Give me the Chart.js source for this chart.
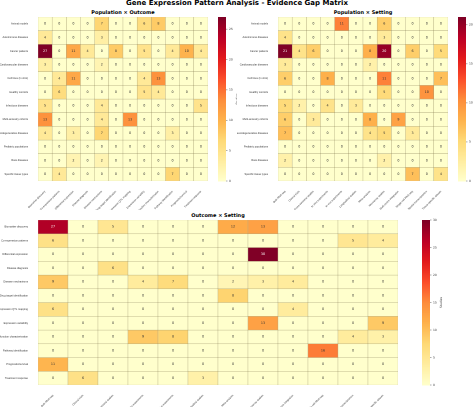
<!DOCTYPE html>
<html><head><meta charset="utf-8">
<script src="https://cdn.jsdelivr.net/npm/chart.js@4.4.0/dist/chart.umd.min.js"></script>
<style>
body{margin:0;width:474px;height:407px;background:#fff;position:relative;overflow:hidden;font-family:"DejaVu Sans",sans-serif}
canvas{position:absolute}
.t{position:absolute;font-weight:bold;text-align:center;white-space:nowrap}
</style></head><body>
<div class="t" style="left:0;width:474px;top:-1px;font-size:7px">Gene Expression Pattern Analysis - Evidence Gap Matrix</div>
<div class="t" style="left:38px;width:170px;top:9px;font-size:5px">Population × Outcome</div>
<div class="t" style="left:278px;width:170px;top:9px;font-size:5px">Population × Setting</div>
<div class="t" style="left:38px;width:360px;top:212px;font-size:5px">Outcome × Setting</div>
<canvas id="c1" style="left:0;top:0"></canvas>
<canvas id="c2" style="left:237px;top:0"></canvas>
<canvas id="c3" style="left:0;top:210px"></canvas>
<script>
const populations=["Animal models","Autoimmune diseases","Cancer patients","Cardiovascular diseases","Cell lines (in vitro)","Healthy controls","Infectious diseases","Multi-ancestry cohorts","Neurodegenerative diseases","Pediatric populations","Rare diseases","Specific tissue types"];
const outcomes=["Biomarker discovery","Co-expression patterns","Differential expression","Disease diagnosis","Disease mechanisms","Drug target identification","Expression QTL mapping","Expression variability","Gene function characterization","Pathway identification","Prognostic/survival","Treatment response"];
const settings=["Bulk RNA-seq","Clinical trials","Cross-sectional studies","In vitro experiments","In vivo experiments","Longitudinal studies","Meta-analysis","Microarray studies","Multi-omics integration","Single-cell RNA-seq","Spatial transcriptomics","Tissue-specific atlases"];
const popOutcome=[
[0,0,0,0,7,0,0,6,8,0,0,0],
[4,0,0,0,3,0,0,0,0,0,0,0],
[27,0,11,4,0,8,0,5,0,4,10,4],
[3,0,0,0,2,0,0,0,0,0,0,0],
[0,4,11,0,0,0,0,4,13,0,0,0],
[0,6,0,0,0,0,0,5,4,0,0,0],
[5,0,0,0,4,0,0,0,0,0,0,5],
[13,0,0,0,4,0,13,0,0,0,0,0],
[4,0,3,0,7,0,0,0,0,3,0,0],
[0,0,0,0,0,0,0,0,0,0,0,0],
[0,0,2,0,2,0,0,0,0,0,0,0],
[0,4,0,0,0,0,0,0,0,7,0,0]];
const popSetting=[
[0,0,0,0,11,0,0,6,0,0,0,0],
[4,0,0,0,0,0,0,3,0,0,0,0],
[21,4,6,0,0,0,8,20,0,6,0,5],
[3,0,0,0,0,0,2,0,0,0,0,0],
[6,0,0,8,0,0,0,11,0,0,0,7],
[0,0,0,0,0,0,0,5,0,0,10,0],
[5,2,0,4,0,3,0,0,0,0,0,0],
[6,0,3,0,0,0,8,0,9,0,0,0],
[7,0,0,0,0,0,4,5,0,3,0,0],
[0,0,0,0,0,0,0,0,0,0,0,0],
[2,0,0,0,0,0,0,2,0,0,0,0],
[0,0,0,0,0,0,0,0,0,7,0,4]];
const outcomeSetting=[
[27,0,5,0,0,0,12,13,0,0,0,0],
[6,0,0,0,0,0,0,0,0,0,5,4],
[0,0,0,0,0,0,0,30,0,0,0,0],
[0,0,6,0,0,0,0,0,0,0,0,0],
[9,0,0,4,7,0,2,3,4,0,0,0],
[0,0,0,0,0,0,8,0,0,0,0,0],
[6,0,0,0,0,0,0,0,4,0,0,0],
[0,0,0,0,0,0,0,13,0,0,0,9],
[0,0,0,9,8,0,0,0,0,0,4,3],
[0,0,0,0,0,0,0,0,0,16,0,0],
[11,0,0,0,0,0,0,0,0,0,0,0],
[0,6,0,0,0,3,0,0,0,0,0,0]];
const cmapStops=["#ffffcc","#ffeda0","#fed976","#feb24c","#fd8d3c","#fc4e2a","#e31a1c","#bd0026","#800026"];
function hex(c){return [1,3,5].map(i=>parseInt(c.substr(i,2),16));}
function cmap(t){t=Math.max(0,Math.min(1,t));const p=t*8,i=Math.min(7,Math.floor(p)),f=p-i;const a=hex(cmapStops[i]),b=hex(cmapStops[i+1]);return `rgb(${a.map((v,k)=>Math.round(v+(b[k]-v)*f)).join(",")})`;}

function heat(id,w,h,rows,cols,data,pad,maxV,cbTicks){
  const cv=document.getElementById(id);
  const ds=rows.map((r,i)=>({label:r,data:cols.map(()=>1),vals:data[i],
    backgroundColor:ctx=>cmap(data[i][ctx.dataIndex]/maxV),borderColor:"rgba(150,140,90,0.55)",borderWidth:0.5,borderSkipped:false,
    barPercentage:1,categoryPercentage:1}));
  const plug={id:"lab"+id,afterDatasetsDraw(ch){
    const c=ch.ctx;c.save();c.font="3.3px 'DejaVu Sans'";c.textAlign="center";c.textBaseline="middle";
    ch.data.datasets.forEach((d,i)=>{ch.getDatasetMeta(i).data.forEach((el,j)=>{const v=d.vals[j];c.fillStyle=v/maxV>0.6?"#fff":"#333";c.fillText(v,el.x,(el.y+el.base)/2);});});
    const a=ch.chartArea,x0=a.right+pad.cbx,cw=pad.cbw,y0=a.top,y1=a.bottom;
    for(let k=0;k<200;k++){c.fillStyle=cmap(k/199);const yy=y1-(k+1)*(y1-y0)/200;c.fillRect(x0,yy,cw,(y1-y0)/200+0.5);}
    c.fillStyle="#333";c.textAlign="left";c.font="3px 'DejaVu Sans'";c.strokeStyle="#333";c.lineWidth=0.4;
    cbTicks.forEach(t=>{const yy=y1-(t/maxV)*(y1-y0);c.beginPath();c.moveTo(x0+cw,yy);c.lineTo(x0+cw+1.5,yy);c.stroke();c.fillText(t,x0+cw+3,yy);});
    c.save();c.translate(x0+cw+11,(y0+y1)/2);c.rotate(-Math.PI/2);c.textAlign="center";c.fillText("Studies",0,0);c.restore();
    c.restore();}};
  new Chart(cv,{type:"bar",data:{labels:cols,datasets:ds},plugins:[plug],
    options:{responsive:false,animation:false,devicePixelRatio:2,
      layout:{padding:{top:pad.top,right:pad.right,left:0,bottom:0}},
      plugins:{legend:{display:false},tooltip:{enabled:false}},
      scales:{
        x:{stacked:true,grid:{display:false},border:{display:false},afterFit:s=>{s.height=pad.xh;},
           ticks:{font:{size:2.6},color:"#333",minRotation:45,maxRotation:45,autoSkip:false,padding:1}},
        y:{stacked:true,min:0,max:rows.length,reverse:true,grid:{display:false},border:{display:false},
           afterFit:s=>{s.width=pad.yw;},
           afterBuildTicks:s=>{s.ticks=rows.map((r,i)=>({value:i+0.5}));},
           ticks:{font:{size:2.6},color:"#333",autoSkip:false,padding:2,callback:(v,i)=>rows[i]}}}}});
  cv.style.width=w+"px";cv.style.height=h+"px";
}
function setup(id,w,h){const c=document.getElementById(id);c.width=w;c.height=h;c.style.width=w+"px";c.style.height=h+"px";}
setup("c1",237,210);setup("c2",237,210);setup("c3",474,197);
heat("c1",237,210,populations,outcomes,popOutcome,{top:17,right:29,xh:29,yw:38,cbx:10,cbw:8},27,[0,5,10,15,20,25]);
heat("c2",237,210,populations,settings,popSetting,{top:17,right:26,xh:29,yw:41,cbx:10,cbw:8},21,[0,5,10,15,20]);
heat("c3",474,197,outcomes,settings,outcomeSetting,{top:10,right:76,xh:22,yw:38,cbx:24,cbw:8},30,[0,5,10,15,20,25,30]);
</script></body></html>
